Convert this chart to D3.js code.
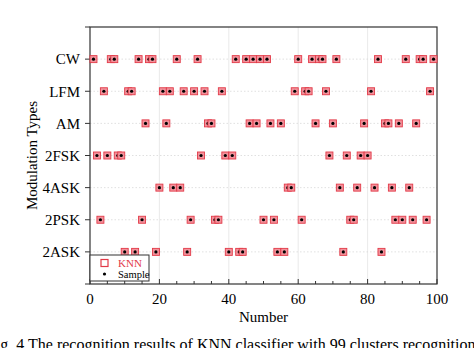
<!DOCTYPE html>
<style>
  body { margin: 0; background: #fff; overflow: hidden; }
  svg { font-family: "Liberation Serif", "Times New Roman", serif; }
</style>
<svg width="474" height="348"></svg>
<script src="https://d3js.org/d3.v7.min.js"></script>
<script>

// modulation classes, bottom to top
var types = ["2ASK", "2PSK", "4ASK", "2FSK", "AM", "LFM", "CW"];

// sample numbers recognised as each class
var cwSamples   = [1, 6, 7, 14, 17, 18, 25, 31, 42, 45, 47, 49, 51, 60, 64, 66, 67, 71, 83, 91, 95, 96, 99];
var lfmSamples  = [4, 11, 12, 21, 23, 27, 30, 33, 38, 59, 62, 63, 68, 81, 98];
var amSamples   = [16, 22, 34, 35, 46, 48, 52, 55, 65, 70, 79, 85, 86, 89, 94];
var fskSamples  = [2, 5, 8, 9, 32, 39, 41, 69, 74, 78, 80];
var ask4Samples = [20, 24, 26, 57, 58, 72, 77, 82, 87, 92];
var pskSamples  = [3, 15, 29, 36, 37, 50, 53, 61, 75, 76, 88, 90, 93, 97];
var ask2Samples = [10, 13, 19, 28, 40, 43, 44, 54, 56, 73, 84];

var xTicks = [0, 20, 40, 60, 80, 100];

var byType = {
  "CW": cwSamples, "LFM": lfmSamples, "AM": amSamples, "2FSK": fskSamples,
  "4ASK": ask4Samples, "2PSK": pskSamples, "2ASK": ask2Samples
};

var data = [];
types.forEach(function(t) {
  byType[t].forEach(function(n) { data.push({ num: n, type: t }); });
});

var svg = d3.select("svg"),
    margin = {top: 27, right: 37, bottom: 64, left: 90},
    width = +svg.attr("width") - margin.left - margin.right,
    height = +svg.attr("height") - margin.top - margin.bottom,
    g = svg.append("g").attr("transform", "translate(" + margin.left + "," + margin.top + ")");

var x = d3.scaleLinear().domain([0, 100]).range([0, width]);
// category index 1..7, with one empty step above and below
var y = d3.scaleLinear().domain([0, 8]).range([height, 0]);
function yPos(t) { return y(types.indexOf(t) + 1); }

// grid
g.append("g").selectAll("line")
  .data([20, 40, 60, 80]).enter().append("line")
    .attr("x1", function(d) { return x(d); })
    .attr("x2", function(d) { return x(d); })
    .attr("y1", 0).attr("y2", height)
    .style("stroke", "#e4e4e4").style("stroke-width", 0.8);

g.append("g").selectAll("line")
  .data(types).enter().append("line")
    .attr("x1", 0).attr("x2", width)
    .attr("y1", function(d) { return yPos(d); })
    .attr("y2", function(d) { return yPos(d); })
    .style("stroke", "#d8d8d8").style("stroke-width", 0.8)
    .style("stroke-dasharray", "1.5,2");

// frame
g.append("rect")
  .attr("width", width).attr("height", height)
  .style("fill", "none").style("stroke", "#333").style("stroke-width", 1.2);

// x axis: inward ticks, minor every 5
var xAxis = g.append("g")
  .attr("transform", "translate(0," + height + ")");
xAxis.selectAll(".minor")
  .data(d3.range(0, 101, 5)).enter().append("line")
    .attr("x1", function(d) { return x(d); })
    .attr("x2", function(d) { return x(d); })
    .attr("y1", 0)
    .attr("y2", function(d) { return d % 20 === 0 ? -5 : -3; })
    .style("stroke", "#333");
xAxis.selectAll("text")
  .data(xTicks).enter().append("text")
    .attr("x", function(d) { return x(d); })
    .attr("y", 20)
    .attr("text-anchor", "middle")
    .style("font-size", "15px")
    .text(function(d) { return d; });

// y axis: outward ticks
var yAxis = g.append("g");
yAxis.selectAll("line")
  .data(d3.range(0, 9)).enter().append("line")
    .attr("x1", -5).attr("x2", 0)
    .attr("y1", function(d) { return y(d); })
    .attr("y2", function(d) { return y(d); })
    .style("stroke", "#333");
yAxis.selectAll("text")
  .data(types).enter().append("text")
    .attr("x", -10)
    .attr("y", function(d) { return yPos(d); })
    .attr("dy", "0.35em")
    .attr("text-anchor", "end")
    .style("font-size", "15px")
    .text(function(d) { return d; });

// axis titles
g.append("text")
  .attr("x", width / 2)
  .attr("y", 38)
  .attr("transform", "translate(0," + height + ")")
  .attr("text-anchor", "middle")
  .style("font-size", "15px")
  .text("Number");

svg.append("text")
  .attr("transform", "translate(37," + (margin.top + height / 2) + ") rotate(-90)")
  .attr("text-anchor", "middle")
  .style("font-size", "15px")
  .text("Modulation Types");

// KNN result squares + sample dots
var pts = g.append("g").selectAll(".pt")
  .data(data).enter().append("g")
    .attr("transform", function(d) { return "translate(" + x(d.num) + "," + yPos(d.type) + ")"; });

pts.append("rect")
  .attr("x", -3.5).attr("y", -3.5)
  .attr("width", 7).attr("height", 7)
  .style("fill", "#f2929c")
  .style("stroke", "#e23a48")
  .style("stroke-width", 0.9);

pts.append("circle")
  .attr("r", 1.6)
  .style("fill", "#000");

// legend
var legend = g.append("g")
  .attr("transform", "translate(0," + (height - 29) + ")");
legend.append("rect")
  .attr("width", 59).attr("height", 26)
  .style("fill", "#fff").style("stroke", "#333").style("stroke-width", 1);
legend.append("rect")
  .attr("x", 11).attr("y", 4.5)
  .attr("width", 7).attr("height", 7)
  .style("fill", "#fff").style("stroke", "#e23a48").style("stroke-width", 1.2);
legend.append("text")
  .attr("x", 28).attr("y", 8).attr("dy", "0.35em")
  .style("font-size", "11px").style("fill", "#e23a48")
  .text("KNN");
legend.append("circle")
  .attr("cx", 14.5).attr("cy", 19)
  .attr("r", 1.6).style("fill", "#000");
legend.append("text")
  .attr("x", 28).attr("y", 19).attr("dy", "0.35em")
  .style("font-size", "10.5px")
  .text("Sample");

// caption, cut off by the bottom of the page as in the source
svg.append("text")
  .attr("x", -13)
  .attr("y", 350)
  .style("font-size", "16px")
  .text("Fig. 4 The recognition results of KNN classifier with 99 clusters recognition");

</script>
